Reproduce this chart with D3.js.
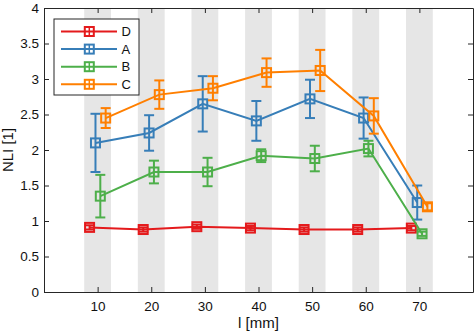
<!DOCTYPE html>
<html>
<head>
<meta charset="utf-8">
<script src="https://cdn.jsdelivr.net/npm/d3@7"></script>
<style>
  body { margin: 0; background: #fff; }
  svg { display: block; font-family: "Liberation Sans", Arial, sans-serif; }
</style>
</head>
<body>
<svg id="chart" width="474" height="333"></svg>
<script>
// Data
const lengths = [10, 20, 30, 40, 50, 60, 70];
const seriesNames = ['D', 'A', 'B', 'C'];
const seriesColors = ['#e41a1c', '#377eb8', '#4daf4a', '#ff7f00'];
const seriesOffsets = [-1.5, -0.4, 0.5, 1.5];

const dMean = [0.91, 0.88, 0.92, 0.90, 0.88, 0.88, 0.90];
const dErr  = [0.03, 0.03, 0.03, 0.03, 0.03, 0.03, 0.03];
const aMean = [2.10, 2.24, 2.65, 2.41, 2.72, 2.45, 1.26];
const aErr  = [0.41, 0.25, 0.39, 0.28, 0.27, 0.29, 0.24];
const bMean = [1.35, 1.69, 1.69, 1.92, 1.88, 2.02, 0.82];
const bErr  = [0.30, 0.16, 0.20, 0.09, 0.18, 0.11, 0.03];
const cMean = [2.45, 2.78, 2.87, 3.09, 3.12, 2.48, 1.20];
const cErr  = [0.14, 0.20, 0.17, 0.20, 0.29, 0.25, 0.05];

const means = [dMean, aMean, bMean, cMean];
const errs = [dErr, aErr, bErr, cErr];
const yTicks = [0, 0.5, 1, 1.5, 2, 2.5, 3, 3.5, 4];

const margin = { top: 8, right: 1, bottom: 41, left: 44 };
const width = 474 - margin.left - margin.right;
const height = 333 - margin.top - margin.bottom;

const svg = d3.select('#chart');
const g = svg.append('g')
  .attr('transform', `translate(${margin.left},${margin.top})`);

const x = d3.scaleLinear().domain([0, 80]).range([0, width]);
const y = d3.scaleLinear().domain([0, 4]).range([height, 0]);

// Gray bands behind each length
g.selectAll('.band')
  .data(lengths)
  .enter()
  .append('rect')
  .attr('class', 'band')
  .attr('x', d => x(d - 2.5))
  .attr('y', 1)
  .attr('width', x(5) - x(0))
  .attr('height', height - 1)
  .attr('fill', '#e6e6e6');

const axisColor = '#262626';

// Axes, ticks pointing inward
const styleAxis = sel => {
  sel.select('.domain').attr('stroke', axisColor);
  sel.selectAll('.tick line').attr('stroke', axisColor);
  sel.selectAll('.tick text').attr('fill', '#111').style('font-size', '13.5px');
};

g.append('g')
  .attr('transform', `translate(0,${height})`)
  .call(d3.axisBottom(x).tickValues(lengths).tickSizeInner(-5).tickSizeOuter(0).tickPadding(9))
  .call(styleAxis);

g.append('g')
  .call(d3.axisTop(x).tickValues(lengths).tickSizeInner(-5).tickSizeOuter(0).tickFormat(''))
  .call(styleAxis);

g.append('g')
  .call(d3.axisLeft(y).tickValues(yTicks).tickFormat(d3.format('')).tickSizeInner(-5).tickSizeOuter(0).tickPadding(5))
  .call(styleAxis);

g.append('g')
  .attr('transform', `translate(${width},0)`)
  .call(d3.axisRight(y).tickValues(yTicks).tickSizeInner(-5).tickSizeOuter(0).tickFormat(''))
  .call(styleAxis);

// Series
const ms = 9;
const cap = 5;
seriesNames.forEach((name, i) => {
  const color = seriesColors[i];
  const pts = lengths.map((l, j) => ({ x: l + seriesOffsets[i], m: means[i][j], e: errs[i][j] }));
  const sg = g.append('g');

  sg.append('path')
    .datum(pts)
    .attr('fill', 'none')
    .attr('stroke', color)
    .attr('stroke-width', 2)
    .attr('d', d3.line().x(d => x(d.x)).y(d => y(d.m)));

  const eb = sg.selectAll('.eb')
    .data(pts)
    .enter()
    .append('g')
    .attr('transform', d => `translate(${x(d.x)},0)`);

  eb.append('line')
    .attr('y1', d => y(d.m - d.e)).attr('y2', d => y(d.m + d.e))
    .attr('stroke', color).attr('stroke-width', 2);
  eb.append('line')
    .attr('x1', -cap).attr('x2', cap)
    .attr('y1', d => y(d.m + d.e)).attr('y2', d => y(d.m + d.e))
    .attr('stroke', color).attr('stroke-width', 2);
  eb.append('line')
    .attr('x1', -cap).attr('x2', cap)
    .attr('y1', d => y(d.m - d.e)).attr('y2', d => y(d.m - d.e))
    .attr('stroke', color).attr('stroke-width', 2);
  eb.append('rect')
    .attr('x', -ms / 2).attr('y', d => y(d.m) - ms / 2)
    .attr('width', ms).attr('height', ms)
    .attr('fill', 'none')
    .attr('stroke', color).attr('stroke-width', 2);
});

// Legend
const legend = g.append('g').attr('transform', 'translate(10,11)');
legend.append('rect')
  .attr('width', 85).attr('height', 76)
  .attr('fill', '#fff').attr('stroke', axisColor).attr('stroke-width', 1);

seriesNames.forEach((name, i) => {
  const ly = 12.5 + i * 17.6;
  const color = seriesColors[i];
  const row = legend.append('g').attr('transform', `translate(0,${ly})`);
  row.append('line').attr('x1', 7).attr('x2', 63).attr('stroke', color).attr('stroke-width', 2);
  row.append('rect').attr('x', 35.3 - ms / 2).attr('y', -ms / 2)
    .attr('width', ms).attr('height', ms)
    .attr('fill', 'none').attr('stroke', color).attr('stroke-width', 2);
  row.append('line').attr('x1', 35.3).attr('x2', 35.3).attr('y1', -ms / 2).attr('y2', ms / 2)
    .attr('stroke', color).attr('stroke-width', 1.5);
  row.append('text')
    .attr('x', 67.5).attr('y', 0).attr('dy', '0.36em')
    .style('font-size', '13px').attr('fill', '#111')
    .text(name);
});

// Axis labels
svg.append('text')
  .attr('transform', `translate(13,${margin.top + height / 2}) rotate(-90)`)
  .attr('text-anchor', 'middle')
  .style('font-size', '15px').attr('fill', '#111')
  .text('NLI [1]');

svg.append('text')
  .attr('x', margin.left + width / 2)
  .attr('y', 328)
  .attr('text-anchor', 'middle')
  .style('font-size', '15px').attr('fill', '#111')
  .text('l [mm]');
</script>
</body>
</html>
